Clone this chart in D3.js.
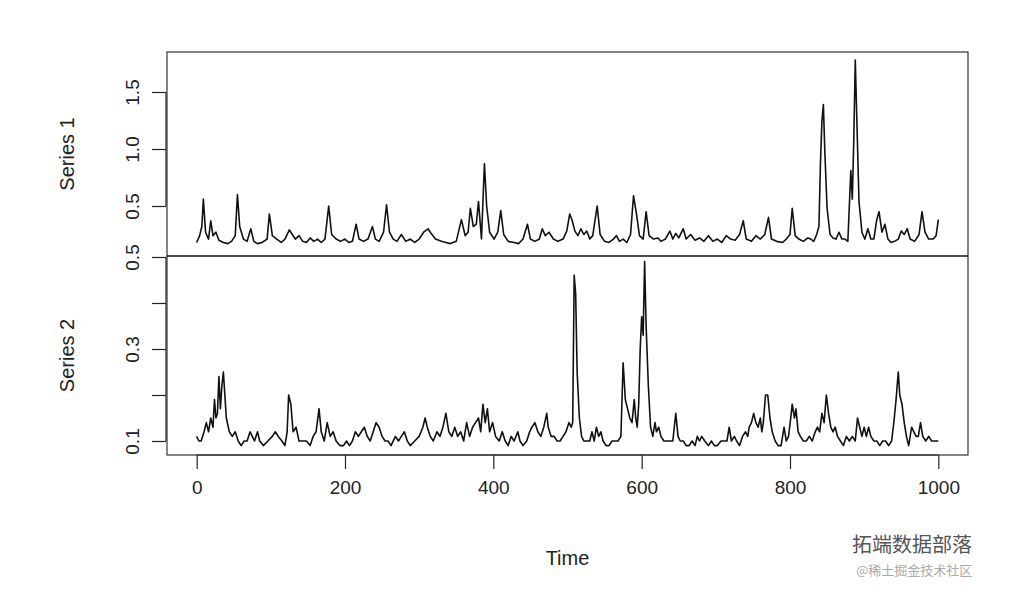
<!DOCTYPE html>
<html>
<head>
<meta charset="utf-8">
<script src="https://cdn.jsdelivr.net/npm/d3@7"></script>
<style>
  body { margin: 0; background: #fff; }
  text { font-family: "Liberation Sans", Arial, sans-serif; fill: #222; }
</style>
</head>
<body>
<div id="chart-area"></div>
<script>
// series 1: [time, value]
var series1 = [
  [0,0.18],[4,0.24],[7,0.32],[9,0.56],[12,0.27],[16,0.21],[19,0.37],[22,0.24],[26,0.27],[30,0.2],
  [36,0.18],[42,0.17],[47,0.19],[52,0.24],[55,0.6],[58,0.32],[63,0.21],[68,0.19],[73,0.3],[77,0.19],
  [82,0.17],[88,0.18],[95,0.21],[98,0.43],[102,0.24],[108,0.21],[114,0.18],[119,0.21],[125,0.29],[129,0.25],
  [133,0.21],[138,0.24],[143,0.19],[148,0.18],[153,0.22],[158,0.19],[163,0.21],[168,0.18],[173,0.21],[178,0.5],
  [182,0.25],[188,0.21],[194,0.19],[200,0.21],[205,0.18],[210,0.19],[215,0.34],[219,0.21],[225,0.19],[231,0.21],
  [237,0.32],[241,0.21],[246,0.19],[252,0.27],[256,0.51],[260,0.27],[265,0.21],[270,0.19],[276,0.25],[282,0.19],
  [288,0.21],[294,0.18],[300,0.21],[306,0.27],[312,0.3],[316,0.26],[322,0.21],[330,0.19],[336,0.18],[342,0.17],
  [350,0.19],[357,0.38],[362,0.24],[366,0.27],[369,0.48],[373,0.32],[377,0.34],[380,0.54],[384,0.21],[388,0.87],
  [391,0.5],[395,0.27],[401,0.21],[406,0.27],[410,0.46],[414,0.25],[420,0.19],[428,0.18],[434,0.17],[440,0.21],
  [446,0.34],[450,0.21],[456,0.19],[462,0.21],[466,0.3],[470,0.24],[475,0.27],[481,0.21],[487,0.19],[494,0.21],
  [499,0.28],[503,0.43],[506,0.38],[510,0.28],[514,0.24],[518,0.3],[522,0.25],[526,0.28],[530,0.21],[534,0.24],
  [540,0.5],[544,0.25],[550,0.19],[556,0.18],[562,0.21],[566,0.24],[570,0.19],[575,0.21],[580,0.18],[585,0.25],
  [589,0.59],[593,0.43],[597,0.24],[602,0.21],[606,0.45],[610,0.24],[616,0.21],[622,0.22],[626,0.19],[632,0.21],
  [638,0.28],[642,0.21],[646,0.26],[650,0.22],[656,0.3],[660,0.21],[666,0.25],[672,0.2],[678,0.22],[684,0.19],
  [690,0.24],[696,0.19],[702,0.21],[708,0.18],[714,0.24],[720,0.21],[726,0.2],[732,0.25],[737,0.37],[741,0.21],
  [748,0.19],[754,0.24],[760,0.21],[766,0.25],[771,0.4],[775,0.21],[782,0.19],[790,0.18],[795,0.21],[800,0.25],
  [803,0.48],[807,0.24],[812,0.21],[818,0.19],[824,0.22],[828,0.21],[832,0.19],[836,0.25],[839,0.32],[841,0.86],
  [843,1.24],[845,1.39],[847,0.97],[850,0.48],[854,0.25],[858,0.22],[862,0.21],[866,0.27],[870,0.21],[874,0.21],
  [878,0.19],[882,0.81],[884,0.56],[886,1.08],[888,1.78],[890,1.29],[893,0.54],[897,0.27],[901,0.21],[905,0.3],
  [909,0.21],[913,0.21],[917,0.38],[920,0.45],[924,0.27],[928,0.34],[932,0.21],[936,0.18],[941,0.19],[946,0.21],
  [950,0.28],[954,0.25],[958,0.3],[962,0.21],[968,0.19],[974,0.25],[978,0.45],[982,0.27],[987,0.21],[993,0.21],
  [997,0.24],[1000,0.38]
];

// series 2: [time, value]
var series2 = [
  [0,0.11],[3,0.1],[6,0.1],[10,0.12],[13,0.14],[16,0.12],[19,0.15],[22,0.13],[24,0.19],[26,0.15],
  [28,0.16],[30,0.24],[32,0.17],[34,0.22],[36,0.25],[38,0.2],[40,0.15],[44,0.12],[48,0.11],[52,0.12],
  [56,0.1],[60,0.09],[64,0.1],[68,0.1],[72,0.12],[75,0.11],[78,0.1],[82,0.12],[85,0.1],[90,0.09],
  [96,0.1],[102,0.11],[106,0.12],[110,0.11],[115,0.1],[119,0.09],[122,0.12],[124,0.2],[127,0.18],[130,0.12],
  [134,0.13],[138,0.1],[143,0.1],[148,0.1],[153,0.09],[157,0.11],[161,0.12],[165,0.17],[168,0.12],[172,0.1],
  [176,0.14],[180,0.11],[184,0.12],[188,0.1],[193,0.09],[198,0.09],[202,0.1],[206,0.09],[210,0.1],[214,0.12],
  [218,0.11],[222,0.12],[226,0.13],[230,0.11],[234,0.1],[238,0.12],[242,0.14],[246,0.13],[250,0.11],[254,0.1],
  [258,0.1],[262,0.09],[268,0.11],[272,0.1],[276,0.11],[280,0.12],[284,0.1],[288,0.09],[294,0.1],[300,0.11],
  [305,0.13],[308,0.15],[311,0.13],[315,0.11],[319,0.1],[324,0.12],[328,0.11],[332,0.13],[336,0.16],[340,0.12],
  [344,0.11],[348,0.13],[352,0.11],[356,0.12],[360,0.1],[364,0.14],[368,0.11],[372,0.13],[376,0.14],[380,0.15],
  [383,0.12],[386,0.18],[389,0.14],[392,0.17],[395,0.12],[399,0.14],[403,0.11],[408,0.1],[412,0.12],[416,0.1],
  [420,0.09],[424,0.11],[428,0.1],[433,0.12],[436,0.1],[440,0.09],[445,0.1],[449,0.12],[452,0.13],[456,0.14],
  [460,0.12],[464,0.11],[468,0.13],[472,0.16],[474,0.13],[478,0.11],[482,0.11],[486,0.1],[490,0.1],[494,0.11],
  [498,0.12],[502,0.14],[505,0.13],[507,0.14],[509,0.46],[511,0.42],[513,0.25],[516,0.15],[519,0.11],[522,0.1],
  [526,0.1],[530,0.1],[533,0.12],[536,0.1],[539,0.13],[542,0.11],[545,0.12],[548,0.1],[552,0.09],[556,0.09],
  [560,0.1],[564,0.1],[568,0.1],[572,0.11],[575,0.27],[578,0.19],[581,0.17],[584,0.15],[587,0.14],[590,0.19],
  [592,0.15],[594,0.13],[596,0.18],[598,0.3],[600,0.37],[602,0.33],[604,0.49],[606,0.35],[609,0.22],[612,0.13],
  [615,0.11],[618,0.14],[620,0.12],[623,0.13],[626,0.11],[630,0.1],[634,0.1],[638,0.1],[642,0.1],[646,0.16],
  [649,0.11],[652,0.1],[656,0.1],[660,0.09],[664,0.09],[668,0.1],[672,0.09],[675,0.11],[678,0.1],[681,0.11],
  [685,0.1],[690,0.09],[694,0.1],[698,0.09],[702,0.09],[707,0.1],[711,0.1],[715,0.1],[718,0.13],[721,0.1],
  [725,0.11],[728,0.1],[732,0.09],[736,0.11],[740,0.12],[743,0.11],[745,0.13],[748,0.14],[751,0.16],[754,0.14],
  [757,0.13],[760,0.15],[762,0.12],[764,0.14],[767,0.2],[770,0.2],[773,0.15],[776,0.12],[780,0.1],[784,0.09],
  [788,0.09],[792,0.13],[795,0.1],[798,0.11],[801,0.15],[803,0.18],[806,0.15],[808,0.17],[811,0.12],[814,0.11],
  [818,0.1],[822,0.1],[826,0.11],[830,0.1],[834,0.12],[837,0.13],[840,0.12],[843,0.16],[846,0.14],[849,0.2],
  [852,0.16],[855,0.13],[858,0.12],[861,0.13],[864,0.11],[868,0.1],[872,0.09],[876,0.11],[880,0.1],[884,0.11],
  [888,0.1],[891,0.15],[894,0.13],[897,0.11],[900,0.13],[903,0.11],[906,0.13],[909,0.11],[913,0.1],[917,0.1],
  [921,0.09],[925,0.1],[929,0.1],[933,0.09],[937,0.1],[940,0.14],[943,0.19],[946,0.25],[948,0.2],[951,0.18],
  [954,0.14],[957,0.11],[960,0.09],[964,0.13],[967,0.12],[970,0.11],[973,0.11],[976,0.14],[979,0.11],[983,0.1],
  [987,0.11],[991,0.1],[995,0.1],[1000,0.1]
];

var xTicks = [0, 200, 400, 600, 800, 1000];
var y1Ticks = [0.5, 1.0, 1.5];
var y2Ticks = [0.1, 0.2, 0.3, 0.4, 0.5];
var y2Labels = [0.1, 0.3, 0.5];

var svg = d3.select("#chart-area").append("svg")
    .attr("width", 1036).attr("height", 595);

var left = 167, right = 968;
var x = d3.scaleLinear().domain([-40, 1040]).range([left, right]);

var panels = [
  { data: series1, top: 52, bottom: 256, y: d3.scaleLinear().domain([0.5, 1.5]).range([206, 92]),
    ticks: y1Ticks, labels: y1Ticks, name: "Series 1" },
  { data: series2, top: 256, bottom: 455, y: d3.scaleLinear().domain([0.1, 0.5]).range([441, 257]),
    ticks: y2Ticks, labels: y2Labels, name: "Series 2" }
];

var line = function(y) {
  return d3.line().x(d => x(d[0])).y(d => y(d[1]));
};

panels.forEach(p => {
  svg.append("defs").append("clipPath").attr("id", "clip" + p.top)
    .append("rect").attr("x", left).attr("y", p.top).attr("width", right - left).attr("height", p.bottom - p.top);

  svg.append("path")
      .datum(p.data)
      .attr("d", line(p.y))
      .attr("fill", "none")
      .attr("stroke", "#111")
      .attr("stroke-width", 1.6)
      .attr("stroke-linejoin", "round")
      .attr("clip-path", "url(#clip" + p.top + ")");

  // y axis
  var yAxis = d3.axisLeft(p.y).tickValues(p.ticks).tickSize(14)
      .tickFormat(d => p.labels.indexOf(d) >= 0 ? d3.format(".1f")(d) : "");
  var g = svg.append("g").attr("transform", "translate(" + (left - 1) + ",0)").call(yAxis);
  g.select(".domain")
      .attr("d", "M0," + p.y(p.ticks[0]) + "V" + p.y(p.ticks[p.ticks.length - 1]))
      .attr("stroke", "#222").attr("stroke-width", 1.2);
  g.selectAll("line").attr("stroke", "#222").attr("stroke-width", 1.2);
  g.selectAll("text")
      .attr("transform", "rotate(-90)")
      .attr("x", 0).attr("y", -27).attr("dy", null)
      .attr("text-anchor", "middle")
      .style("font-size", "19px");

  svg.append("text")
      .attr("transform", "translate(74," + ((p.top + p.bottom) / 2) + ") rotate(-90)")
      .attr("text-anchor", "middle")
      .style("font-size", "20px")
      .text(p.name);
});

// panel boxes
svg.append("rect").attr("x", left).attr("y", 52).attr("width", right - left).attr("height", 455 - 52)
    .attr("fill", "none").attr("stroke", "#333").attr("stroke-width", 1.2);
svg.append("line").attr("x1", left).attr("x2", right).attr("y1", 256).attr("y2", 256)
    .attr("stroke", "#111").attr("stroke-width", 1.6);

// x axis
var xAxis = d3.axisBottom(x).tickValues(xTicks).tickSize(14).tickPadding(12).tickFormat(d3.format("d"));
var gx = svg.append("g").attr("transform", "translate(0,455)").call(xAxis);
gx.select(".domain").attr("d", "M" + x(0) + ",0H" + x(1000)).attr("stroke", "#222").attr("stroke-width", 1.2);
gx.selectAll("line").attr("stroke", "#222").attr("stroke-width", 1.2);
gx.selectAll("text").style("font-size", "19px").attr("fill", "#222");

svg.append("text")
    .attr("x", (left + right) / 2).attr("y", 565)
    .attr("text-anchor", "middle")
    .style("font-size", "20px")
    .text("Time");

// watermark
svg.append("text").attr("x", 852).attr("y", 552)
    .style("font-family", "Noto Sans CJK SC").style("font-size", "20px").style("fill", "#555")
    .text("拓端数据部落");
svg.append("text").attr("x", 856).attr("y", 575)
    .style("font-family", "Noto Sans CJK SC").style("font-size", "13px").style("fill", "#aaa")
    .text("@稀土掘金技术社区");
</script>
</body>
</html>
